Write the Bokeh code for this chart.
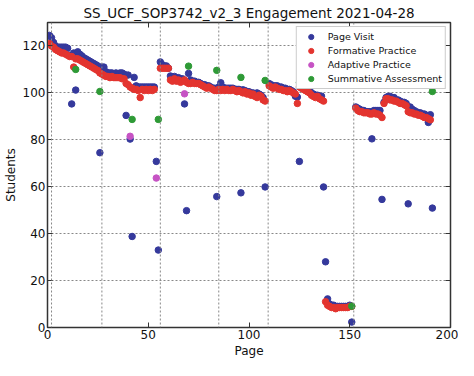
import numpy as np
from bokeh.plotting import figure
from bokeh.models import Span, LinearAxis, Range1d, FixedTicker
from bokeh.embed import file_html
from bokeh.resources import INLINE

nan = float("nan")

title = "SS_UCF_SOP3742_v2_3 Engagement 2021-04-28"
series_names = ["Page Visit", "Formative Practice", "Adaptive Practice", "Summative Assessment"]

pages = list(range(1, 192))

page_visit = [
    124.5, 123.5, 121.5, 120, 119.5, 119.5, 119.5, 119.5, 119.5, 119,
    116, 95.3, 117, 101.2, 117.5, 116.5, 115.8, 115, 114.5, 114,
    113.5, 113, 112.5, 112, 111.5, 74.5, 111, 111, 109, 108.5,
    108.5, 108.5, 108, 108.5, 108, 108.5, 108.5, 108, 90.4, 107.6,
    80.3, 38.8, 106.6, 103, 102.5, 102.5, 102.5, 102.5, 102.5, 102.5,
    102.5, 102.5, 102.5, 70.8, 33, 113.2, 112, 111.5, 111.5, 110.5,
    107.2, 106.5, 107, 106.5, 106.5, 106, 106, 95.3, 49.8, 108.3,
    105.5, 105, 105, 104.5, 104.5, 104, 103.5, 103.5, 103, 103,
    102.5, 102, 102, 55.8, 102.5, 104.3, 102.5, 102, 102, 102,
    102, 102, 101.5, 101.5, 101.5, 57.4, 101.3, 101, 100.5, 100.5,
    100, 100, 99.5, 100, 99.5, 99, 98, 59.9, nan, 104,
    103.5, 103, 103, 103, 102.5, 102.5, 102, 102, 101.5, 101.5,
    101, 100.5, 98.6, 98.2, 70.8, 104, 103, 102.5, 102, 101.5,
    100, 99.5, 99, 99, 98.5, 98.6, 59.9, 28, 12.2, 10,
    9.5, 9.5, 9, 9, 9, 9, 9, 9, 9, 9.5,
    2.3, nan, 94, 93.5, 93, 92.5, 92.5, 92, 92, 92,
    80.4, 92.5, 92.5, 92.5, 92.5, 54.6, 96, 98, 98.5, 98.5,
    98, 98, 97, 97, 96.5, 96, 96, 95.5, 52.7, 94,
    93, 92.5, 92, 91.5, 91.5, 91, 91, 90.5, 87.4, 90.7, 50.9,
]

formative = [
    121, 120, 119.5, 118.5, 118, 117.5, 117, 117, 116.5, 116,
    115.5, 115.5, 111, 114.5, 114.5, 114, 113.5, 113, 112.5, 112,
    111.5, 111, 110.5, 110, 109.5, 108.5, 108, 107.5, 107, 107,
    106.5, 107, 106.5, 106.5, 106.5, 106.5, 106, 106, 104, 103.5,
    102.5, 102, 101.5, 101.5, 101, 98, 101.5, 101, 101.5, 101,
    101.5, 101, 101.5, nan, nan, 110.5, 110.5, 110.5, 110.5, 110.5,
    105.5, 105, 106, 105, 105.5, 104.5, 105, 105.5, 104.5, 104,
    104, 104.5, 104, 104, 104, 103.5, 103, 102.5, 102, 102.5,
    102, 101.5, 101, 101, 101.5, 101, 101.5, 101, 101.5, 101,
    101, 101.5, 101, 100.5, 101, 100.5, 100, 100.5, 99.5, 100,
    99, 99.5, 98.5, 98, 99, 98.5, 97, 96.5, nan, 103,
    102.5, 102, 102.5, 102, 101.5, 101.5, 101, 101, 100.5, 101,
    100.5, 100, 99.5, 95.5, 102.5, 102, 101.5, 101, 100.5, 100,
    99, 98.5, 98, 98.5, 97.5, 97, 96.5, 11, 9.5, 9,
    8.5, 8.5, 8, 8.5, 8.5, 8.5, 8.5, 8.5, 8.5, 9,
    9, nan, 93.5, 92.5, 92, 92, 91.5, 91.5, 91.5, 91,
    91, 91.5, 91, 91, 90.5, 89.5, 95.5, 97.5, 97.5, 97,
    97, 96.5, 96.5, 96, 95.5, 95.5, 95, 94.5, 92, 91.5,
    91.5, 91, 91, 90.5, 90.5, 90, 89.5, 89.5, 89, 88.5, nan,
]

adaptive_pages = [41, 54, 68]
adaptive = [81.5, 63.7, 99.6]

summative_pages = [14, 26, 42, 55, 70, 84, 96, 108, 125, 137, 151, 166, 179, 191]
summative = [110, 100.6, 88.7, 88.7, 111.4, 109.6, 106.6, 105.3, 104.4, 104.2, 9.1, 103.5, 104.2, 100.6]

section_starts = [2, 27, 56, 85, 109.5, 152]

x_ticks = [0, 50, 100, 150, 200]
y_ticks = [0, 20, 40, 60, 80, 100, 120]

colors = ["#35399c", "#e3342f", "#c653c4", "#2e9a36"]
FONT = "DejaVu Sans"

p = figure(width=458, height=360, x_range=Range1d(0, 200), y_range=Range1d(0, 130),
           output_backend="svg", toolbar_location=None, title=title,
           min_border_left=2, min_border_right=8, min_border_top=0, min_border_bottom=0)

p.title.text_font = FONT
p.title.text_font_size = "13.5px"
p.title.text_font_style = "normal"
p.title.align = "center"
p.title.text_color = "#111111"
p.title.standoff = 4
p.title.offset = 0

p.outline_line_color = "#333333"
p.outline_line_width = 1.5
p.background_fill_color = "white"
p.border_fill_color = "white"

p.xgrid.visible = False
p.ygrid.ticker = FixedTicker(ticks=y_ticks)
p.ygrid.grid_line_color = "#888888"
p.ygrid.grid_line_dash = "2 2"
p.ygrid.grid_line_width = 1

for xs in section_starts:
    p.add_layout(Span(location=xs, dimension="height", line_color="#888888",
                      line_dash="2 2", line_width=1))

p.xaxis.ticker = FixedTicker(ticks=x_ticks)
p.yaxis.ticker = FixedTicker(ticks=y_ticks)
for ax in (p.xaxis[0], p.yaxis[0]):
    ax.major_tick_in = 5
    ax.major_tick_out = 0
    ax.minor_tick_line_color = None
    ax.axis_line_color = "#333333"
    ax.major_tick_line_color = "#333333"
    ax.major_label_text_font = FONT
    ax.major_label_text_font_size = "12px"
    ax.major_label_text_color = "#111111"
    ax.axis_label_text_font = FONT
    ax.axis_label_text_font_size = "12px"
    ax.axis_label_text_font_style = "normal"
    ax.axis_label_text_color = "#111111"
    ax.major_label_standoff = 2
    ax.axis_label_standoff = 2
p.xaxis.axis_label = "Page"
p.yaxis.axis_label = "Students"

# mirrored inward ticks on top and right (no labels)
top = LinearAxis(ticker=FixedTicker(ticks=x_ticks), major_tick_in=5, major_tick_out=0,
                 minor_tick_line_color=None, major_label_text_font_size="1px",
                 major_label_text_color=None, major_label_standoff=0,
                 axis_line_color="#333333", major_tick_line_color="#333333")
right = LinearAxis(ticker=FixedTicker(ticks=y_ticks), major_tick_in=5, major_tick_out=0,
                   minor_tick_line_color=None, major_label_text_font_size="1px",
                   major_label_text_color=None, major_label_standoff=0,
                   axis_line_color="#333333", major_tick_line_color="#333333")
p.add_layout(top, "above")
p.add_layout(right, "right")

size = 6.5
p.scatter(pages, page_visit, size=size, color=colors[0], legend_label=series_names[0])
p.scatter(pages, formative, size=size, color=colors[1], legend_label=series_names[1])
p.scatter(adaptive_pages, adaptive, size=size, color=colors[2], legend_label=series_names[2])
p.scatter(summative_pages, summative, size=size, color=colors[3], legend_label=series_names[3])

p.legend.location = "top_right"
p.legend.label_text_font = FONT
p.legend.label_text_font_size = "9.5px"
p.legend.label_text_color = "#111111"
p.legend.label_height = 13
p.legend.glyph_height = 13
p.legend.glyph_width = 22
p.legend.spacing = 1
p.legend.padding = 3
p.legend.margin = 4
p.legend.label_standoff = 6
p.legend.border_line_color = "#999999"
p.legend.background_fill_alpha = 1.0

open("out.html", "w").write(file_html(p, INLINE))
